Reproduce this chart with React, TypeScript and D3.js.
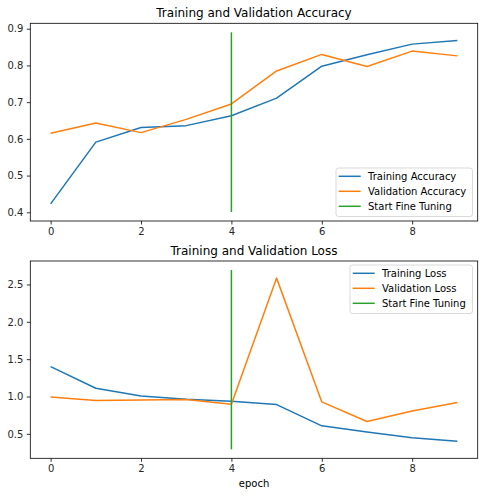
import * as d3 from 'd3';
import { useEffect, useRef } from 'react';

// epochs 0..9
const epochs = [0, 1, 2, 3, 4, 5, 6, 7, 8, 9];
const fineTuneEpoch = 4;

const trainAcc = [0.423, 0.591, 0.631, 0.636, 0.663, 0.711, 0.798, 0.829, 0.858, 0.868];
const valAcc = [0.615, 0.643, 0.617, 0.653, 0.695, 0.785, 0.83, 0.797, 0.839, 0.826];

const trainLoss = [1.4, 1.11, 1.008, 0.963, 0.937, 0.892, 0.607, 0.525, 0.447, 0.402];
const valLoss = [0.994, 0.945, 0.954, 0.959, 0.896, 2.585, 0.928, 0.665, 0.807, 0.919];

const accLabels = ['Training Accuracy', 'Validation Accuracy', 'Start Fine Tuning'];
const lossLabels = ['Training Loss', 'Validation Loss', 'Start Fine Tuning'];

const colors = ['#1f77b4', '#ff7f0e', '#2ca02c'];
const font = "'DejaVu Sans', sans-serif";

// matplotlib-style 5% autoscale margin
const pad = ([lo, hi]: [number, number]): [number, number] => {
  const m = (hi - lo) * 0.05;
  return [lo - m, hi + m];
};

interface PanelProps {
  title: string;
  train: number[];
  val: number[];
  labels: string[];
  top: number;
  bottom: number;
  legendLeft: number;
  legendTop: number;
  xLabel?: string;
}

const left = 30.3;
const right = 477.7;

function Panel({ title, train, val, labels, top, bottom, legendLeft, legendTop, xLabel }: PanelProps) {
  const gRef = useRef<SVGGElement | null>(null);

  useEffect(() => {
    const g = d3.select(gRef.current);
    g.selectAll('*').remove();

    const x = d3.scaleLinear().domain(pad([0, 9])).range([left, right]);
    const firstLim = pad(d3.extent([...train, ...val]) as [number, number]);
    const y = d3.scaleLinear().domain(pad(firstLim)).range([bottom, top]);

    const line = d3
      .line<number>()
      .x((_, i) => x(epochs[i]))
      .y((d) => y(d));

    [train, val].forEach((s, i) => {
      g.append('path')
        .attr('d', line(s))
        .attr('fill', 'none')
        .attr('stroke', colors[i])
        .attr('stroke-width', 1.5)
        .attr('stroke-linejoin', 'round');
    });

    // fine tuning marker
    g.append('line')
      .attr('x1', x(fineTuneEpoch))
      .attr('x2', x(fineTuneEpoch))
      .attr('y1', y(firstLim[0]))
      .attr('y2', y(firstLim[1]))
      .attr('stroke', colors[2])
      .attr('stroke-width', 1.5);

    // axes
    const xAxis = g
      .append('g')
      .attr('transform', `translate(0, ${bottom})`)
      .call(d3.axisBottom(x).ticks(5).tickSize(3.5).tickPadding(3.5).tickFormat(d3.format('d')));
    const yAxis = g
      .append('g')
      .attr('transform', `translate(${left}, 0)`)
      .call(d3.axisLeft(y).ticks(6).tickSize(3.5).tickPadding(3.5).tickFormat(d3.format('.1f')));
    [xAxis, yAxis].forEach((a) => {
      a.select('.domain').remove();
      a.selectAll('text').attr('font-family', font).attr('font-size', 10).attr('fill', '#262626');
      a.selectAll('line').attr('stroke', '#000').attr('stroke-width', 0.8);
    });

    // frame
    g.append('rect')
      .attr('x', left)
      .attr('y', top)
      .attr('width', right - left)
      .attr('height', bottom - top)
      .attr('fill', 'none')
      .attr('stroke', '#000')
      .attr('stroke-width', 0.8);

    g.append('text')
      .attr('x', (left + right) / 2)
      .attr('y', top - 6)
      .attr('text-anchor', 'middle')
      .attr('font-family', font)
      .attr('font-size', 12)
      .attr('fill', '#000')
      .text(title);

    if (xLabel) {
      g.append('text')
        .attr('x', (left + right) / 2)
        .attr('y', bottom + 29)
        .attr('text-anchor', 'middle')
        .attr('font-family', font)
        .attr('font-size', 10)
        .attr('fill', '#000')
        .text(xLabel);
    }

    // legend
    const lg = g.append('g').attr('transform', `translate(${legendLeft}, ${legendTop})`);
    lg.append('rect')
      .attr('width', 472.5 - legendLeft)
      .attr('height', 48.5)
      .attr('rx', 2.5)
      .attr('fill', 'rgba(255,255,255,0.8)')
      .attr('stroke', '#d0d0d0')
      .attr('stroke-width', 0.8);
    labels.forEach((lbl, i) => {
      const ry = 8.3 + i * 15;
      lg.append('line')
        .attr('x1', 2.7)
        .attr('x2', 24.7)
        .attr('y1', ry)
        .attr('y2', ry)
        .attr('stroke', colors[i])
        .attr('stroke-width', 1.5);
      lg.append('text')
        .attr('x', 32)
        .attr('y', ry + 3.6)
        .attr('font-family', font)
        .attr('font-size', 10)
        .attr('fill', '#000')
        .text(lbl);
    });
  }, []);

  return <g ref={gRef} />;
}

export default function App() {
  return (
    <svg
      width={487}
      height={496}
      style={{ position: 'absolute', left: 0, top: 0, background: '#fff' }}
    >
      <Panel
        title="Training and Validation Accuracy"
        train={trainAcc}
        val={valAcc}
        labels={accLabels}
        top={23.3}
        bottom={221}
        legendLeft={336}
        legendTop={168}
      />
      <Panel
        title="Training and Validation Loss"
        train={trainLoss}
        val={valLoss}
        labels={lossLabels}
        top={261}
        bottom={458.3}
        legendLeft={350}
        legendTop={265}
        xLabel="epoch"
      />
    </svg>
  );
}
